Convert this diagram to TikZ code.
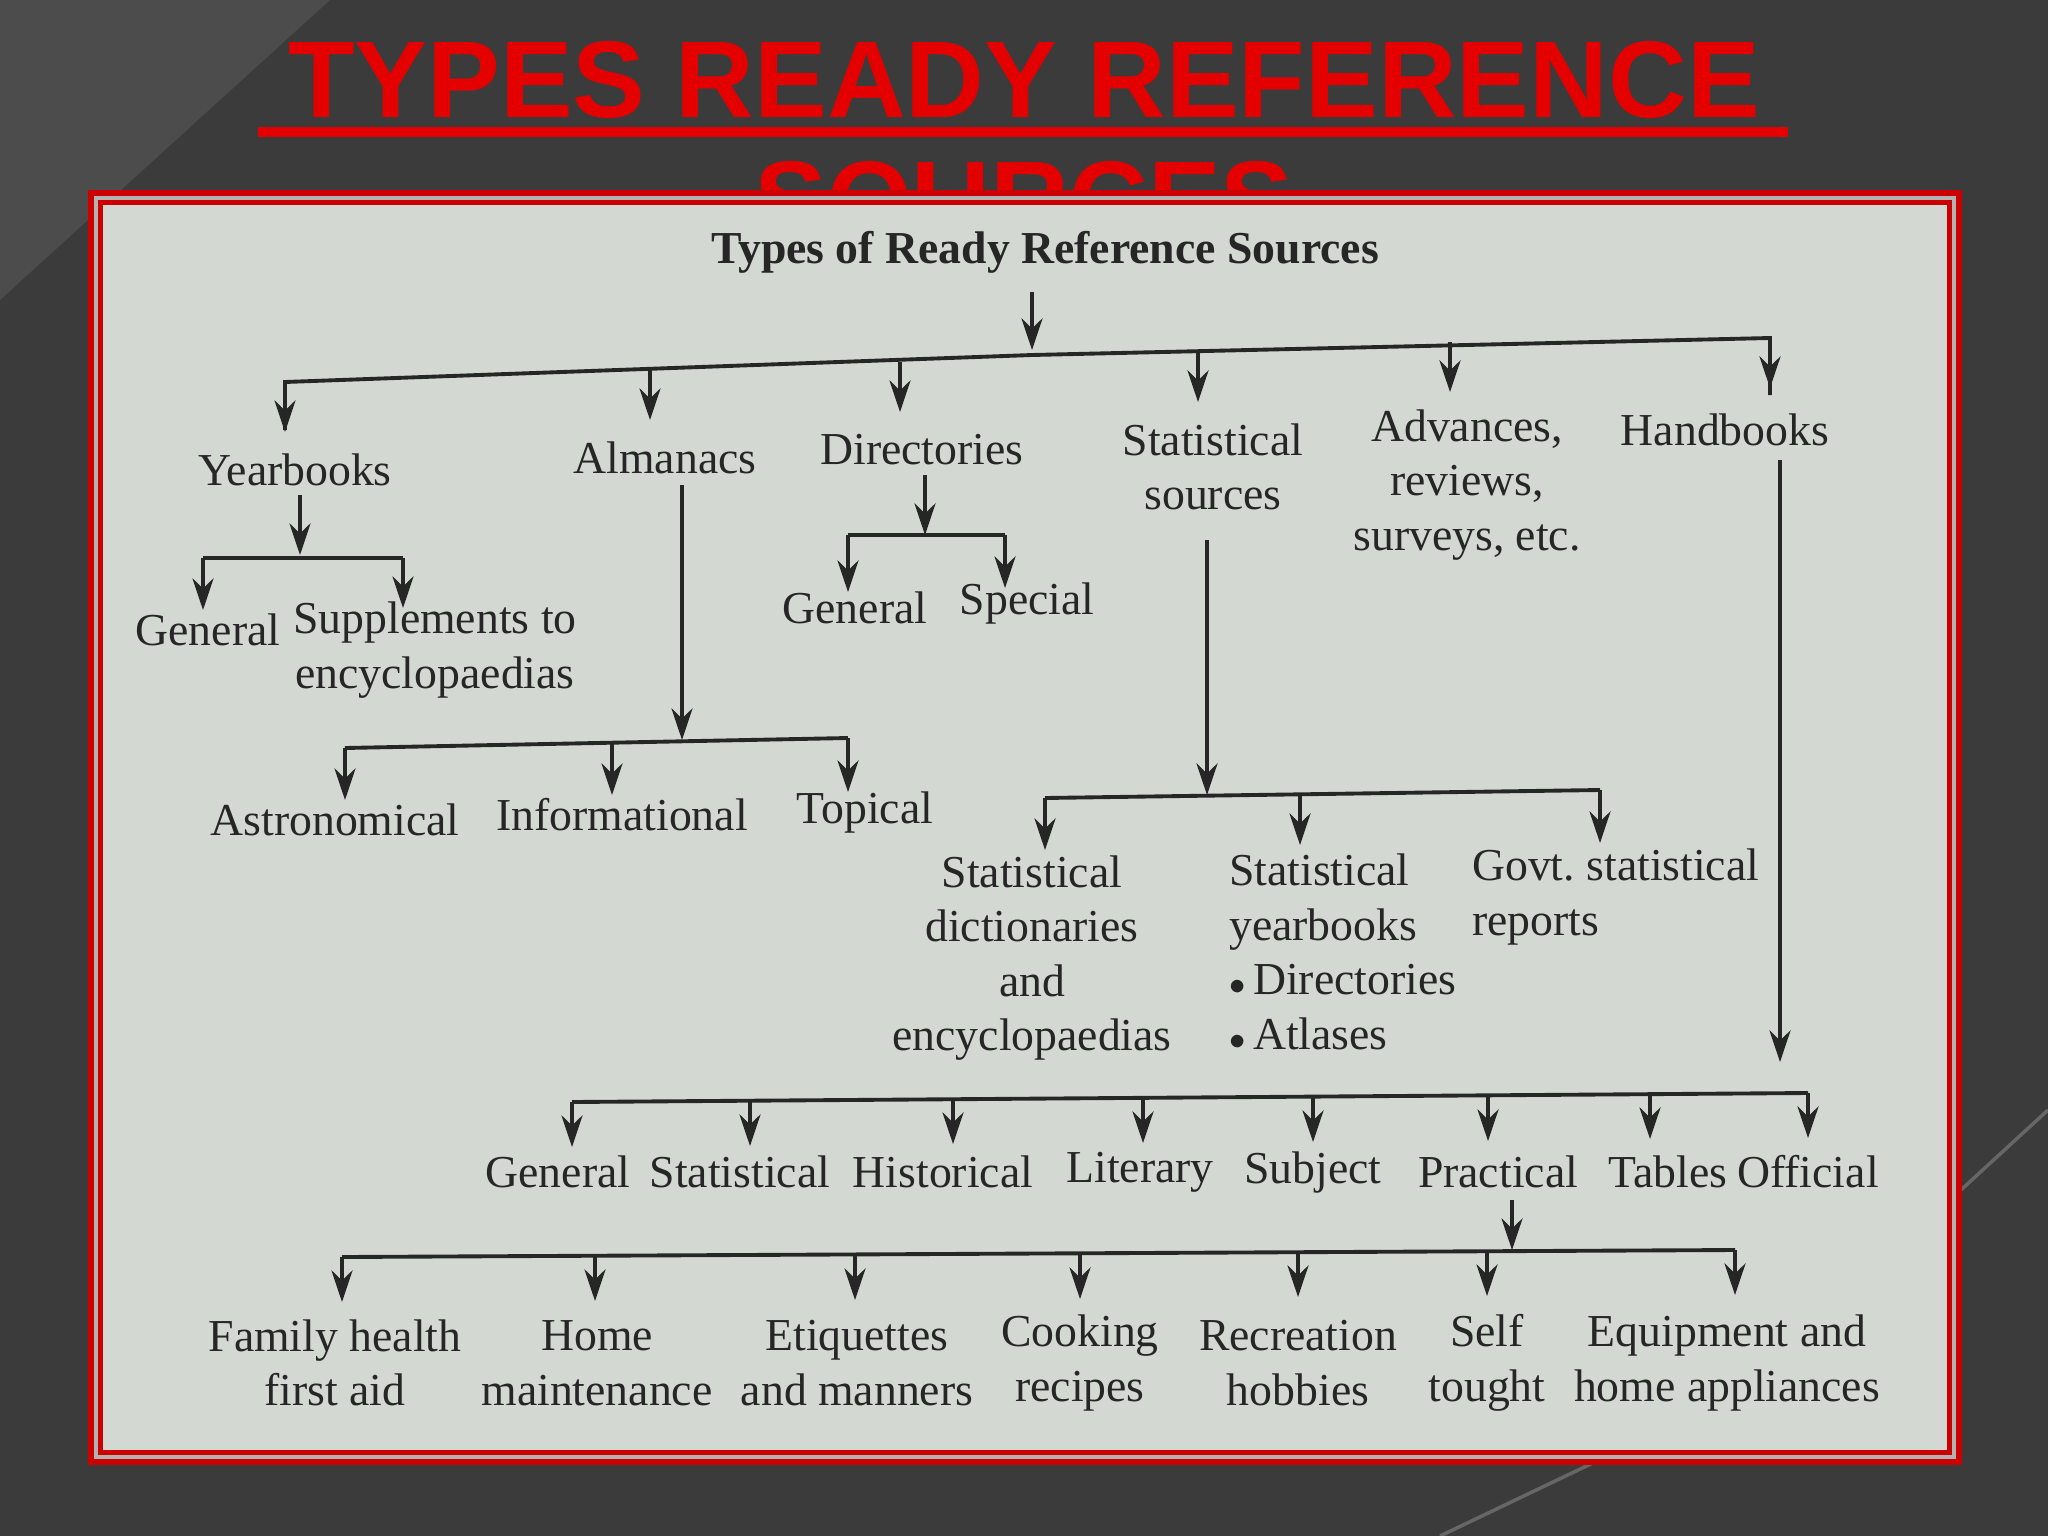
\documentclass[tikz,border=0pt]{standalone}
\usepackage{fontspec}
\setmainfont{Liberation Serif}
\newfontfamily\titlefont{Liberation Sans}
\usetikzlibrary{arrows.meta}
\begin{document}
\begin{tikzpicture}[x=0.01cm,y=-0.01cm,
 lbl/.style={font=\fontsize{13}{15.5}\selectfont,align=center,inner sep=1pt,text=black!85},
 arr/.style={-{Stealth[length=9pt,width=6pt]},line width=1.1pt,black!85},
 ln/.style={line width=1.1pt,black!85}]
\useasboundingbox (0,0) rectangle (2048,1536);
\fill[black!77] (0,0) rectangle (2048,1536);
\fill[black!70] (0,0) -- (0,300) -- (330,0) -- cycle;
\draw[black!60,line width=1pt] (1950,1200) -- (2048,1110);
\draw[black!60,line width=1pt] (1440,1536) -- (1620,1450);
% title
\node[font=\titlefont\bfseries\fontsize{31}{36}\selectfont,text=red!90!black,inner sep=0] (t2) at (1024,200) {SOURCES};
\node[font=\titlefont\bfseries\fontsize{31}{36}\selectfont,text=red!90!black,inner sep=0] (t1) at (1024,80) {TYPES READY REFERENCE};
\draw[red!90!black,line width=3pt] (258,132) -- (1788,132);
% box
\fill[red!80!black] (88,190) rectangle (1962,1465);
\fill[black!30] (94,196) rectangle (1956,1459);
\fill[red!80!black] (98,200) rectangle (1952,1455);
\fill[gray!12!green!3!white!85!black] (103,205) rectangle (1947,1450);
% tree
\node[lbl,font=\bfseries\fontsize{13}{16}\selectfont] (root) at (1045,252) {Types of Ready Reference Sources};
\coordinate (r0) at (1032,292);
\coordinate (r1) at (1032,350);
\draw[arr] (r0) -- (r1);
\coordinate (hA) at (285,382); \coordinate (hB) at (1770,338);
\draw[ln] (285,430) -- (hA) -- (1032,355) -- (hB) -- (1770,395);
\node[lbl] (yb) at (295,470) {Yearbooks};
\node[lbl] (al) at (665,458) {Almanacs};
\node[lbl] (di) at (922,450) {Directories};
\node[lbl] (st) at (1213,467) {Statistical\\sources};
\node[lbl] (ad) at (1467,485) {Advances,\\reviews,\\surveys, etc.};
\node[lbl] (hb) at (1725,430) {Handbooks};
\foreach \x/\ya in {285/382,650/370,900/362,1198/352,1450/342,1770/338}
  \draw[arr] (\x,\ya) -- (\x,\ya+50);
% yearbooks
\draw[arr] (300,495) -- (300,555);
\draw[ln] (203,558) -- (403,558);
\draw[arr] (203,558) -- (203,610); \draw[arr] (403,558) -- (403,608);
\node[lbl] (yg) at (208,630) {General};
\node[lbl] (ys) at (435,650) {Supplements to\\encyclopaedias};
% directories
\draw[arr] (925,475) -- (925,535);
\draw[ln] (848,535) -- (1005,535);
\draw[arr] (848,535) -- (848,592); \draw[arr] (1005,535) -- (1005,588);
\node[lbl] (dg) at (855,608) {General};
\node[lbl] (ds) at (1027,603) {Special};
% almanacs
\draw[arr] (682,485) -- (682,740);
\draw[ln] (345,748) -- (848,738);
\draw[arr] (345,748) -- (345,800); \draw[arr] (612,744) -- (612,795); \draw[arr] (848,738) -- (848,792);
\node[lbl] (aa) at (335,820) {Astronomical};
\node[lbl] (ai) at (622,815) {Informational};
\node[lbl] (at) at (865,812) {Topical};
% statistical
\draw[arr] (1207,540) -- (1207,795);
\draw[ln] (1045,798) -- (1600,790);
\draw[arr] (1045,798) -- (1045,850); \draw[arr] (1300,795) -- (1300,845); \draw[arr] (1600,790) -- (1600,843);
\node[lbl] (sd) at (1032,958) {Statistical\\dictionaries\\and\\encyclopaedias};
\node[lbl,align=left,anchor=west] (sy) at (1225,952) {Statistical\\yearbooks\\{\small$\bullet$}\,Directories\\{\small$\bullet$}\,Atlases};
\node[lbl,align=left,anchor=west] (sg) at (1468,897) {Govt.\ statistical\\reports};
% handbooks
\draw[arr] (1780,460) -- (1780,1062);
\draw[ln] (572,1102) -- (1808,1093);
\foreach \x/\y in {572/1102,750/1101,953/1099,1143/1098,1313/1097,1488/1096,1650/1094,1808/1093}
  \draw[arr] (\x,\y) -- (\x,\y+45);
\foreach \x/\t/\n in {558/General/hg,740/Statistical/hs,943/Historical/hh,1140/Literary/hl,1313/Subject/hu,1498/Practical/hp,1668/Tables/ht,1808/Official/ho}
  \node[lbl] (\n) at (\x,1172) {\t};
% practical
\draw[arr] (1512,1200) -- (1512,1250);
\draw[ln] (342,1257) -- (1735,1250);
\foreach \x/\y in {342/1257,595/1256,855/1255,1080/1254,1298/1252,1487/1251,1735/1250}
  \draw[arr] (\x,\y) -- (\x,\y+45);
\foreach \x/\t/\n in {335/{Family health\\first aid}/p1,597/{Home\\maintenance}/p2,857/{Etiquettes\\and manners}/p3,1080/{Cooking\\recipes}/p4,1298/{Recreation\\hobbies}/p5,1487/{Self\\tought}/p6,1727/{Equipment and\\home appliances}/p7}
  \node[lbl] (\n) at (\x,1363) {\t};
\end{tikzpicture}
\end{document}
